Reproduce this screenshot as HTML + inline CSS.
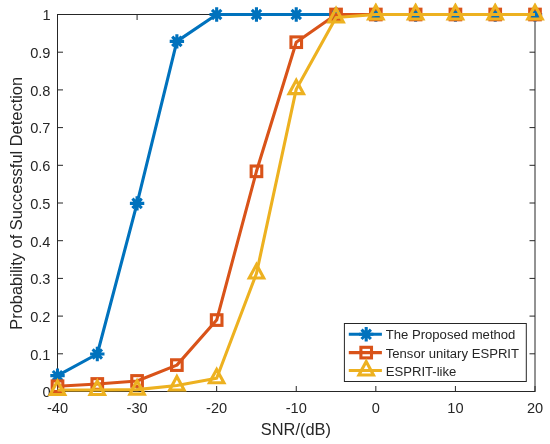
<!DOCTYPE html><html><head><meta charset="utf-8"><title>plot</title><style>html,body{margin:0;padding:0;background:#fff}svg{display:block}</style></head><body><svg width="550" height="444" viewBox="0 0 550 444" font-family="Liberation Sans, sans-serif" font-size="14.6" fill="#262626">
<rect width="550" height="444" fill="#fff"/>
<rect x="57.5" y="14.5" width="477.5" height="377.0" fill="none" stroke="#262626" stroke-width="1"/>
<path d="M57.50 391.5v-5.5M57.50 14.5v5.5M137.08 391.5v-5.5M137.08 14.5v5.5M216.67 391.5v-5.5M216.67 14.5v5.5M296.25 391.5v-5.5M296.25 14.5v5.5M375.83 391.5v-5.5M375.83 14.5v5.5M455.42 391.5v-5.5M455.42 14.5v5.5M535.00 391.5v-5.5M535.00 14.5v5.5M57.5 391.50h5.5M535.0 391.50h-5.5M57.5 353.80h5.5M535.0 353.80h-5.5M57.5 316.10h5.5M535.0 316.10h-5.5M57.5 278.40h5.5M535.0 278.40h-5.5M57.5 240.70h5.5M535.0 240.70h-5.5M57.5 203.00h5.5M535.0 203.00h-5.5M57.5 165.30h5.5M535.0 165.30h-5.5M57.5 127.60h5.5M535.0 127.60h-5.5M57.5 89.90h5.5M535.0 89.90h-5.5M57.5 52.20h5.5M535.0 52.20h-5.5M57.5 14.50h5.5M535.0 14.50h-5.5" stroke="#262626" stroke-width="1" fill="none"/>
<text x="57.50" y="412.9" text-anchor="middle">-40</text>
<text x="137.08" y="412.9" text-anchor="middle">-30</text>
<text x="216.67" y="412.9" text-anchor="middle">-20</text>
<text x="296.25" y="412.9" text-anchor="middle">-10</text>
<text x="375.83" y="412.9" text-anchor="middle">0</text>
<text x="455.42" y="412.9" text-anchor="middle">10</text>
<text x="535.00" y="412.9" text-anchor="middle">20</text>
<text x="50.5" y="397.30" text-anchor="end">0</text>
<text x="50.5" y="359.60" text-anchor="end">0.1</text>
<text x="50.5" y="321.90" text-anchor="end">0.2</text>
<text x="50.5" y="284.20" text-anchor="end">0.3</text>
<text x="50.5" y="246.50" text-anchor="end">0.4</text>
<text x="50.5" y="208.80" text-anchor="end">0.5</text>
<text x="50.5" y="171.10" text-anchor="end">0.6</text>
<text x="50.5" y="133.40" text-anchor="end">0.7</text>
<text x="50.5" y="95.70" text-anchor="end">0.8</text>
<text x="50.5" y="58.00" text-anchor="end">0.9</text>
<text x="50.5" y="20.30" text-anchor="end">1</text>
<text x="295.85" y="434.9" text-anchor="middle" font-size="16.4">SNR/(dB)</text>
<text transform="translate(22.1 203.30) rotate(-90)" text-anchor="middle" font-size="16.43">Probability of Successful Detection</text>
<clipPath id="c"><rect x="45.5" y="2.5" width="501.5" height="401.0"/></clipPath>
<g clip-path="url(#c)">
<polyline points="57.50,375.67 97.29,353.99 137.08,203.38 176.88,41.38 216.67,14.50 256.46,14.50 296.25,14.50 336.04,14.50 375.83,14.50 415.62,14.50 455.42,14.50 495.21,14.50 535.00,14.50" fill="none" stroke="#0072BD" stroke-width="3.1" stroke-linejoin="round"/>
<path d="M50.30 375.67h14.4M57.50 368.47v14.4M52.82 370.98l9.37 9.37M52.82 380.35l9.37 -9.37" stroke="#0072BD" stroke-width="3.1" fill="none"/>
<path d="M90.09 353.99h14.4M97.29 346.79v14.4M92.61 349.30l9.37 9.37M92.61 358.67l9.37 -9.37" stroke="#0072BD" stroke-width="3.1" fill="none"/>
<path d="M129.88 203.38h14.4M137.08 196.18v14.4M132.40 198.69l9.37 9.37M132.40 208.06l9.37 -9.37" stroke="#0072BD" stroke-width="3.1" fill="none"/>
<path d="M169.68 41.38h14.4M176.88 34.18v14.4M172.19 36.70l9.37 9.37M172.19 46.06l9.37 -9.37" stroke="#0072BD" stroke-width="3.1" fill="none"/>
<path d="M209.47 14.50h14.4M216.67 7.30v14.4M211.98 9.82l9.37 9.37M211.98 19.18l9.37 -9.37" stroke="#0072BD" stroke-width="3.1" fill="none"/>
<path d="M249.26 14.50h14.4M256.46 7.30v14.4M251.77 9.82l9.37 9.37M251.77 19.18l9.37 -9.37" stroke="#0072BD" stroke-width="3.1" fill="none"/>
<path d="M289.05 14.50h14.4M296.25 7.30v14.4M291.57 9.82l9.37 9.37M291.57 19.18l9.37 -9.37" stroke="#0072BD" stroke-width="3.1" fill="none"/>
<path d="M328.84 14.50h14.4M336.04 7.30v14.4M331.36 9.82l9.37 9.37M331.36 19.18l9.37 -9.37" stroke="#0072BD" stroke-width="3.1" fill="none"/>
<path d="M368.63 14.50h14.4M375.83 7.30v14.4M371.15 9.82l9.37 9.37M371.15 19.18l9.37 -9.37" stroke="#0072BD" stroke-width="3.1" fill="none"/>
<path d="M408.43 14.50h14.4M415.62 7.30v14.4M410.94 9.82l9.37 9.37M410.94 19.18l9.37 -9.37" stroke="#0072BD" stroke-width="3.1" fill="none"/>
<path d="M448.22 14.50h14.4M455.42 7.30v14.4M450.73 9.82l9.37 9.37M450.73 19.18l9.37 -9.37" stroke="#0072BD" stroke-width="3.1" fill="none"/>
<path d="M488.01 14.50h14.4M495.21 7.30v14.4M490.52 9.82l9.37 9.37M490.52 19.18l9.37 -9.37" stroke="#0072BD" stroke-width="3.1" fill="none"/>
<path d="M527.80 14.50h14.4M535.00 7.30v14.4M530.32 9.82l9.37 9.37M530.32 19.18l9.37 -9.37" stroke="#0072BD" stroke-width="3.1" fill="none"/>
<polyline points="57.50,386.22 97.29,383.96 137.08,380.94 176.88,365.11 216.67,320.06 256.46,171.33 296.25,42.21 336.04,14.50 375.83,14.50 415.62,14.50 455.42,14.50 495.21,14.50 535.00,14.50" fill="none" stroke="#D95319" stroke-width="3.1" stroke-linejoin="round"/>
<rect x="52.20" y="380.92" width="10.6" height="10.6" stroke="#D95319" stroke-width="3.1" fill="none"/>
<rect x="91.99" y="378.66" width="10.6" height="10.6" stroke="#D95319" stroke-width="3.1" fill="none"/>
<rect x="131.78" y="375.64" width="10.6" height="10.6" stroke="#D95319" stroke-width="3.1" fill="none"/>
<rect x="171.57" y="359.81" width="10.6" height="10.6" stroke="#D95319" stroke-width="3.1" fill="none"/>
<rect x="211.37" y="314.76" width="10.6" height="10.6" stroke="#D95319" stroke-width="3.1" fill="none"/>
<rect x="251.16" y="166.03" width="10.6" height="10.6" stroke="#D95319" stroke-width="3.1" fill="none"/>
<rect x="290.95" y="36.91" width="10.6" height="10.6" stroke="#D95319" stroke-width="3.1" fill="none"/>
<rect x="330.74" y="9.20" width="10.6" height="10.6" stroke="#D95319" stroke-width="3.1" fill="none"/>
<rect x="370.53" y="9.20" width="10.6" height="10.6" stroke="#D95319" stroke-width="3.1" fill="none"/>
<rect x="410.32" y="9.20" width="10.6" height="10.6" stroke="#D95319" stroke-width="3.1" fill="none"/>
<rect x="450.12" y="9.20" width="10.6" height="10.6" stroke="#D95319" stroke-width="3.1" fill="none"/>
<rect x="489.91" y="9.20" width="10.6" height="10.6" stroke="#D95319" stroke-width="3.1" fill="none"/>
<rect x="529.70" y="9.20" width="10.6" height="10.6" stroke="#D95319" stroke-width="3.1" fill="none"/>
<polyline points="57.50,389.99 97.29,389.99 137.08,389.62 176.88,385.47 216.67,378.31 256.46,273.50 296.25,89.15 336.04,17.52 375.83,14.50 415.62,14.50 455.42,14.50 495.21,14.50 535.00,14.50" fill="none" stroke="#EDB120" stroke-width="3.1" stroke-linejoin="round"/>
<path d="M50.25 394.49L57.50 381.09L64.75 394.49Z" stroke="#EDB120" stroke-width="3.1" fill="none" stroke-linejoin="miter"/>
<path d="M90.04 394.49L97.29 381.09L104.54 394.49Z" stroke="#EDB120" stroke-width="3.1" fill="none" stroke-linejoin="miter"/>
<path d="M129.83 394.12L137.08 380.72L144.33 394.12Z" stroke="#EDB120" stroke-width="3.1" fill="none" stroke-linejoin="miter"/>
<path d="M169.62 389.97L176.88 376.57L184.12 389.97Z" stroke="#EDB120" stroke-width="3.1" fill="none" stroke-linejoin="miter"/>
<path d="M209.42 382.81L216.67 369.41L223.92 382.81Z" stroke="#EDB120" stroke-width="3.1" fill="none" stroke-linejoin="miter"/>
<path d="M249.21 278.00L256.46 264.60L263.71 278.00Z" stroke="#EDB120" stroke-width="3.1" fill="none" stroke-linejoin="miter"/>
<path d="M289.00 93.65L296.25 80.25L303.50 93.65Z" stroke="#EDB120" stroke-width="3.1" fill="none" stroke-linejoin="miter"/>
<path d="M328.79 22.02L336.04 8.62L343.29 22.02Z" stroke="#EDB120" stroke-width="3.1" fill="none" stroke-linejoin="miter"/>
<path d="M368.58 19.00L375.83 5.60L383.08 19.00Z" stroke="#EDB120" stroke-width="3.1" fill="none" stroke-linejoin="miter"/>
<path d="M408.38 19.00L415.62 5.60L422.88 19.00Z" stroke="#EDB120" stroke-width="3.1" fill="none" stroke-linejoin="miter"/>
<path d="M448.17 19.00L455.42 5.60L462.67 19.00Z" stroke="#EDB120" stroke-width="3.1" fill="none" stroke-linejoin="miter"/>
<path d="M487.96 19.00L495.21 5.60L502.46 19.00Z" stroke="#EDB120" stroke-width="3.1" fill="none" stroke-linejoin="miter"/>
<path d="M527.75 19.00L535.00 5.60L542.25 19.00Z" stroke="#EDB120" stroke-width="3.1" fill="none" stroke-linejoin="miter"/>
</g>
<rect x="344.4" y="323.5" width="181.9" height="58" fill="#fff" stroke="#262626" stroke-width="1"/>
<path d="M348.79999999999995 334.3h33.1" stroke="#0072BD" stroke-width="3.1"/>
<path d="M359.00 334.30h14.4M366.20 327.10v14.4M361.52 329.62l9.37 9.37M361.52 338.98l9.37 -9.37" stroke="#0072BD" stroke-width="3.1" fill="none"/>
<text x="385.7" y="339.40000000000003" font-size="13.12">The Proposed method</text>
<path d="M348.79999999999995 352.6h33.1" stroke="#D95319" stroke-width="3.1"/>
<rect x="360.90" y="347.30" width="10.6" height="10.6" stroke="#D95319" stroke-width="3.1" fill="none"/>
<text x="385.7" y="357.70000000000005" font-size="13.12">Tensor unitary ESPRIT</text>
<path d="M348.79999999999995 370.5h33.1" stroke="#EDB120" stroke-width="3.1"/>
<path d="M358.95 375.00L366.20 361.60L373.45 375.00Z" stroke="#EDB120" stroke-width="3.1" fill="none" stroke-linejoin="miter"/>
<text x="385.7" y="375.6" font-size="13.12">ESPRIT-like</text>
</svg></body></html>
